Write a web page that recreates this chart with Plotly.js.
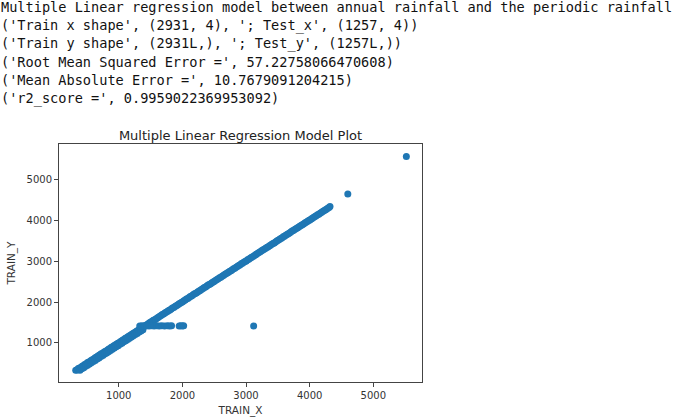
<!DOCTYPE html>
<html>
<head>
<meta charset="utf-8">
<script src="https://cdn.plot.ly/plotly-3.0.1.min.js"></script>
<style>
  html, body { margin: 0; padding: 0; background: #fff; }
  #chart { width: 685px; height: 418px; }
</style>
</head>
<body>
<div id="chart"></div>
<script>
// Console output printed above the plot
const outputLines = [
    "Multiple Linear regression model between annual rainfall and the periodic rainfall",
    "('Train x shape', (2931, 4), '; Test_x', (1257, 4))",
    "('Train y shape', (2931L,), '; Test_y', (1257L,))",
    "('Root Mean Squared Error =', 57.22758066470608)",
    "('Mean Absolute Error =', 10.7679091204215)",
    "('r2_score =', 0.9959022369953092)"
];

// Points along the main diagonal
const mainX = [
    324, 344, 364, 384, 404, 424, 444, 464, 484, 504,
    524, 544, 564, 584, 604, 624, 644, 664, 684, 704,
    724, 744, 764, 784, 804, 824, 844, 864, 884, 904,
    924, 944, 964, 984, 1004, 1024, 1044, 1064, 1084, 1104,
    1124, 1144, 1164, 1184, 1204, 1224, 1244, 1264, 1284, 1304,
    1324, 1344, 1364, 1384, 1404, 1424, 1444, 1464, 1484, 1504,
    1524, 1544, 1564, 1584, 1604, 1624, 1644, 1664, 1684, 1704,
    1724, 1744, 1764, 1784, 1804, 1824, 1844, 1864, 1884, 1904,
    1924, 1944, 1964, 1984, 2004, 2024, 2044, 2064, 2084, 2104,
    2124, 2144, 2164, 2184, 2204, 2224, 2244, 2264, 2284, 2304,
    2324, 2344, 2364, 2384, 2404, 2424, 2444, 2464, 2484, 2504,
    2524, 2544, 2564, 2584, 2604, 2624, 2644, 2664, 2684, 2704,
    2724, 2744, 2764, 2784, 2804, 2824, 2844, 2864, 2884, 2904,
    2924, 2944, 2964, 2984, 3004, 3024, 3044, 3064, 3084, 3104,
    3124, 3144, 3164, 3184, 3204, 3224, 3244, 3264, 3284, 3304,
    3324, 3344, 3364, 3384, 3404, 3424, 3444, 3464, 3484, 3504,
    3524, 3544, 3564, 3584, 3604, 3624, 3644, 3664, 3684, 3704,
    3724, 3744, 3764, 3784, 3804, 3824, 3844, 3864, 3884, 3904,
    3924, 3944, 3964, 3984, 4004, 4024, 4044, 4064, 4084, 4104,
    4124, 4144, 4164, 4184, 4204, 4224, 4244, 4264, 4284, 4304,
    4320, 4600, 5520];
const mainY = [
    332, 341, 375, 386, 399, 433, 444, 470, 482, 514,
    530, 548, 571, 589, 601, 630, 651, 668, 690, 709,
    735, 742, 770, 791, 803, 829, 850, 866, 893, 907,
    931, 950, 968, 992, 1001, 1030, 1049, 1072, 1086, 1115,
    1129, 1152, 1168, 1190, 1212, 1228, 1250, 1266, 1293, 1307,
    1336, 1349, 1368, 1395, 1408, 1430, 1446, 1470, 1495, 1509,
    1530, 1553, 1570, 1588, 1612, 1629, 1650, 1669, 1694, 1708,
    1733, 1748, 1771, 1793, 1807, 1830, 1852, 1866, 1890, 1911,
    1929, 1953, 1968, 1991, 2010, 2031, 2047, 2073, 2088, 2111,
    2134, 2149, 2170, 2195, 2209, 2228, 2253, 2267, 2291, 2310,
    2329, 2355, 2368, 2390, 2414, 2429, 2447, 2472, 2493, 2508,
    2533, 2550, 2569, 2594, 2607, 2632, 2648, 2671, 2690, 2712,
    2730, 2754, 2767, 2790, 2813, 2829, 2852, 2868, 2894, 2907,
    2935, 2946, 2972, 2993, 3006, 3033, 3047, 3069, 3091, 3110,
    3128, 3152, 3167, 3194, 3210, 3227, 3251, 3272, 3289, 3312,
    3333, 3348, 3373, 3389, 3413, 3431, 3446, 3470, 3494, 3508,
    3529, 3554, 3568, 3595, 3607, 3630, 3652, 3667, 3690, 3713,
    3735, 3747, 3771, 3790, 3812, 3828, 3850, 3873, 3889, 3909,
    3930, 3953, 3969, 3994, 4008, 4032, 4046, 4071, 4093, 4110,
    4136, 4148, 4172, 4189, 4215, 4229, 4250, 4268, 4293, 4312,
    4335, 4640, 5560];

// Extra spread that makes the lower part of the line look thicker
const bandX = [390, 420, 450, 480, 510, 540, 570, 600, 630, 660, 690, 720, 750, 780, 810, 840, 870,
    900, 930, 960, 990, 1020, 1050, 1080, 1110, 1140, 1170, 1200, 1230, 1260, 1290, 1320, 1350, 1380];
const bandY = [333, 367, 392, 428, 453, 487, 514, 546, 573, 607, 634, 668, 692, 727, 755, 786, 815,
    848, 874, 906, 933, 968, 994, 1027, 1054, 1087, 1113, 1146, 1175, 1206, 1233, 1268, 1294, 1325];

// Horizontal cluster near 1400 and the lone outlier
const flatX = [1330, 1365, 1400, 1440, 1475, 1515, 1555, 1595, 1635, 1675, 1720, 1765, 1800, 1830, 1950, 1975, 2000, 2020, 3120];
const flatY = [1414, 1418, 1415, 1419, 1414, 1418, 1416, 1419, 1415, 1418, 1416, 1418, 1417, 1419, 1414, 1418, 1416, 1418, 1417];

const xTicks = [1000, 2000, 3000, 4000, 5000];
const yTicks = [1000, 2000, 3000, 4000, 5000];

const trainX = mainX.concat(bandX, flatX);
const trainY = mainY.concat(bandY, flatY);

// plot area in pixels: left 59, right 422, top 144, bottom 382
const plotL = 59, plotT = 144, plotW = 363, plotH = 238;

const annotations = outputLines.map((line, i) => ({
    text: line,
    xref: 'paper', yref: 'paper',
    x: (0 - plotL) / plotW,
    y: (plotT + plotH - (7 + i * 18.2)) / plotH,
    xanchor: 'left', yanchor: 'middle',
    showarrow: false,
    borderpad: 0,
    font: {family: 'DejaVu Sans Mono', size: 13.6, color: '#111'}
}));

const tickFont = {family: 'DejaVu Sans', size: 10, color: '#333'};

Plotly.newPlot('chart', [{
    x: trainX,
    y: trainY,
    type: 'scatter',
    mode: 'markers',
    marker: {color: '#1f77b4', size: 7, line: {width: 0}},
    hoverinfo: 'x+y'
}], {
    width: 685,
    height: 418,
    margin: {l: plotL, r: 685 - plotL - plotW, t: plotT, b: 418 - plotT - plotH, pad: 0},
    paper_bgcolor: '#fff',
    plot_bgcolor: '#fff',
    showlegend: false,
    title: {
        text: 'Multiple Linear Regression Model Plot',
        xref: 'paper', x: 0.5, xanchor: 'center',
        yref: 'container', y: 1 - 135 / 418, yanchor: 'middle',
        font: {family: 'DejaVu Sans', size: 13, color: '#222'}
    },
    xaxis: {
        range: [61, 5766],
        tickvals: xTicks,
        ticks: 'outside', ticklen: 4, tickcolor: '#444', tickwidth: 1,
        showgrid: false, zeroline: false,
        showline: true, mirror: true, linecolor: '#444', linewidth: 1,
        tickfont: tickFont,
        automargin: false,
        title: {text: 'TRAIN_X', standoff: 6, font: {family: 'DejaVu Sans', size: 10.5, color: '#333'}}
    },
    yaxis: {
        range: [45, 5864],
        tickvals: yTicks,
        ticks: 'outside', ticklen: 4, tickcolor: '#444', tickwidth: 1,
        showgrid: false, zeroline: false,
        showline: true, mirror: true, linecolor: '#444', linewidth: 1,
        tickfont: tickFont,
        automargin: false,
        title: {text: 'TRAIN_Y', standoff: 8, font: {family: 'DejaVu Sans', size: 10.5, color: '#333'}}
    },
    annotations: annotations
}, {displayModeBar: false, staticPlot: true});
</script>
</body>
</html>
